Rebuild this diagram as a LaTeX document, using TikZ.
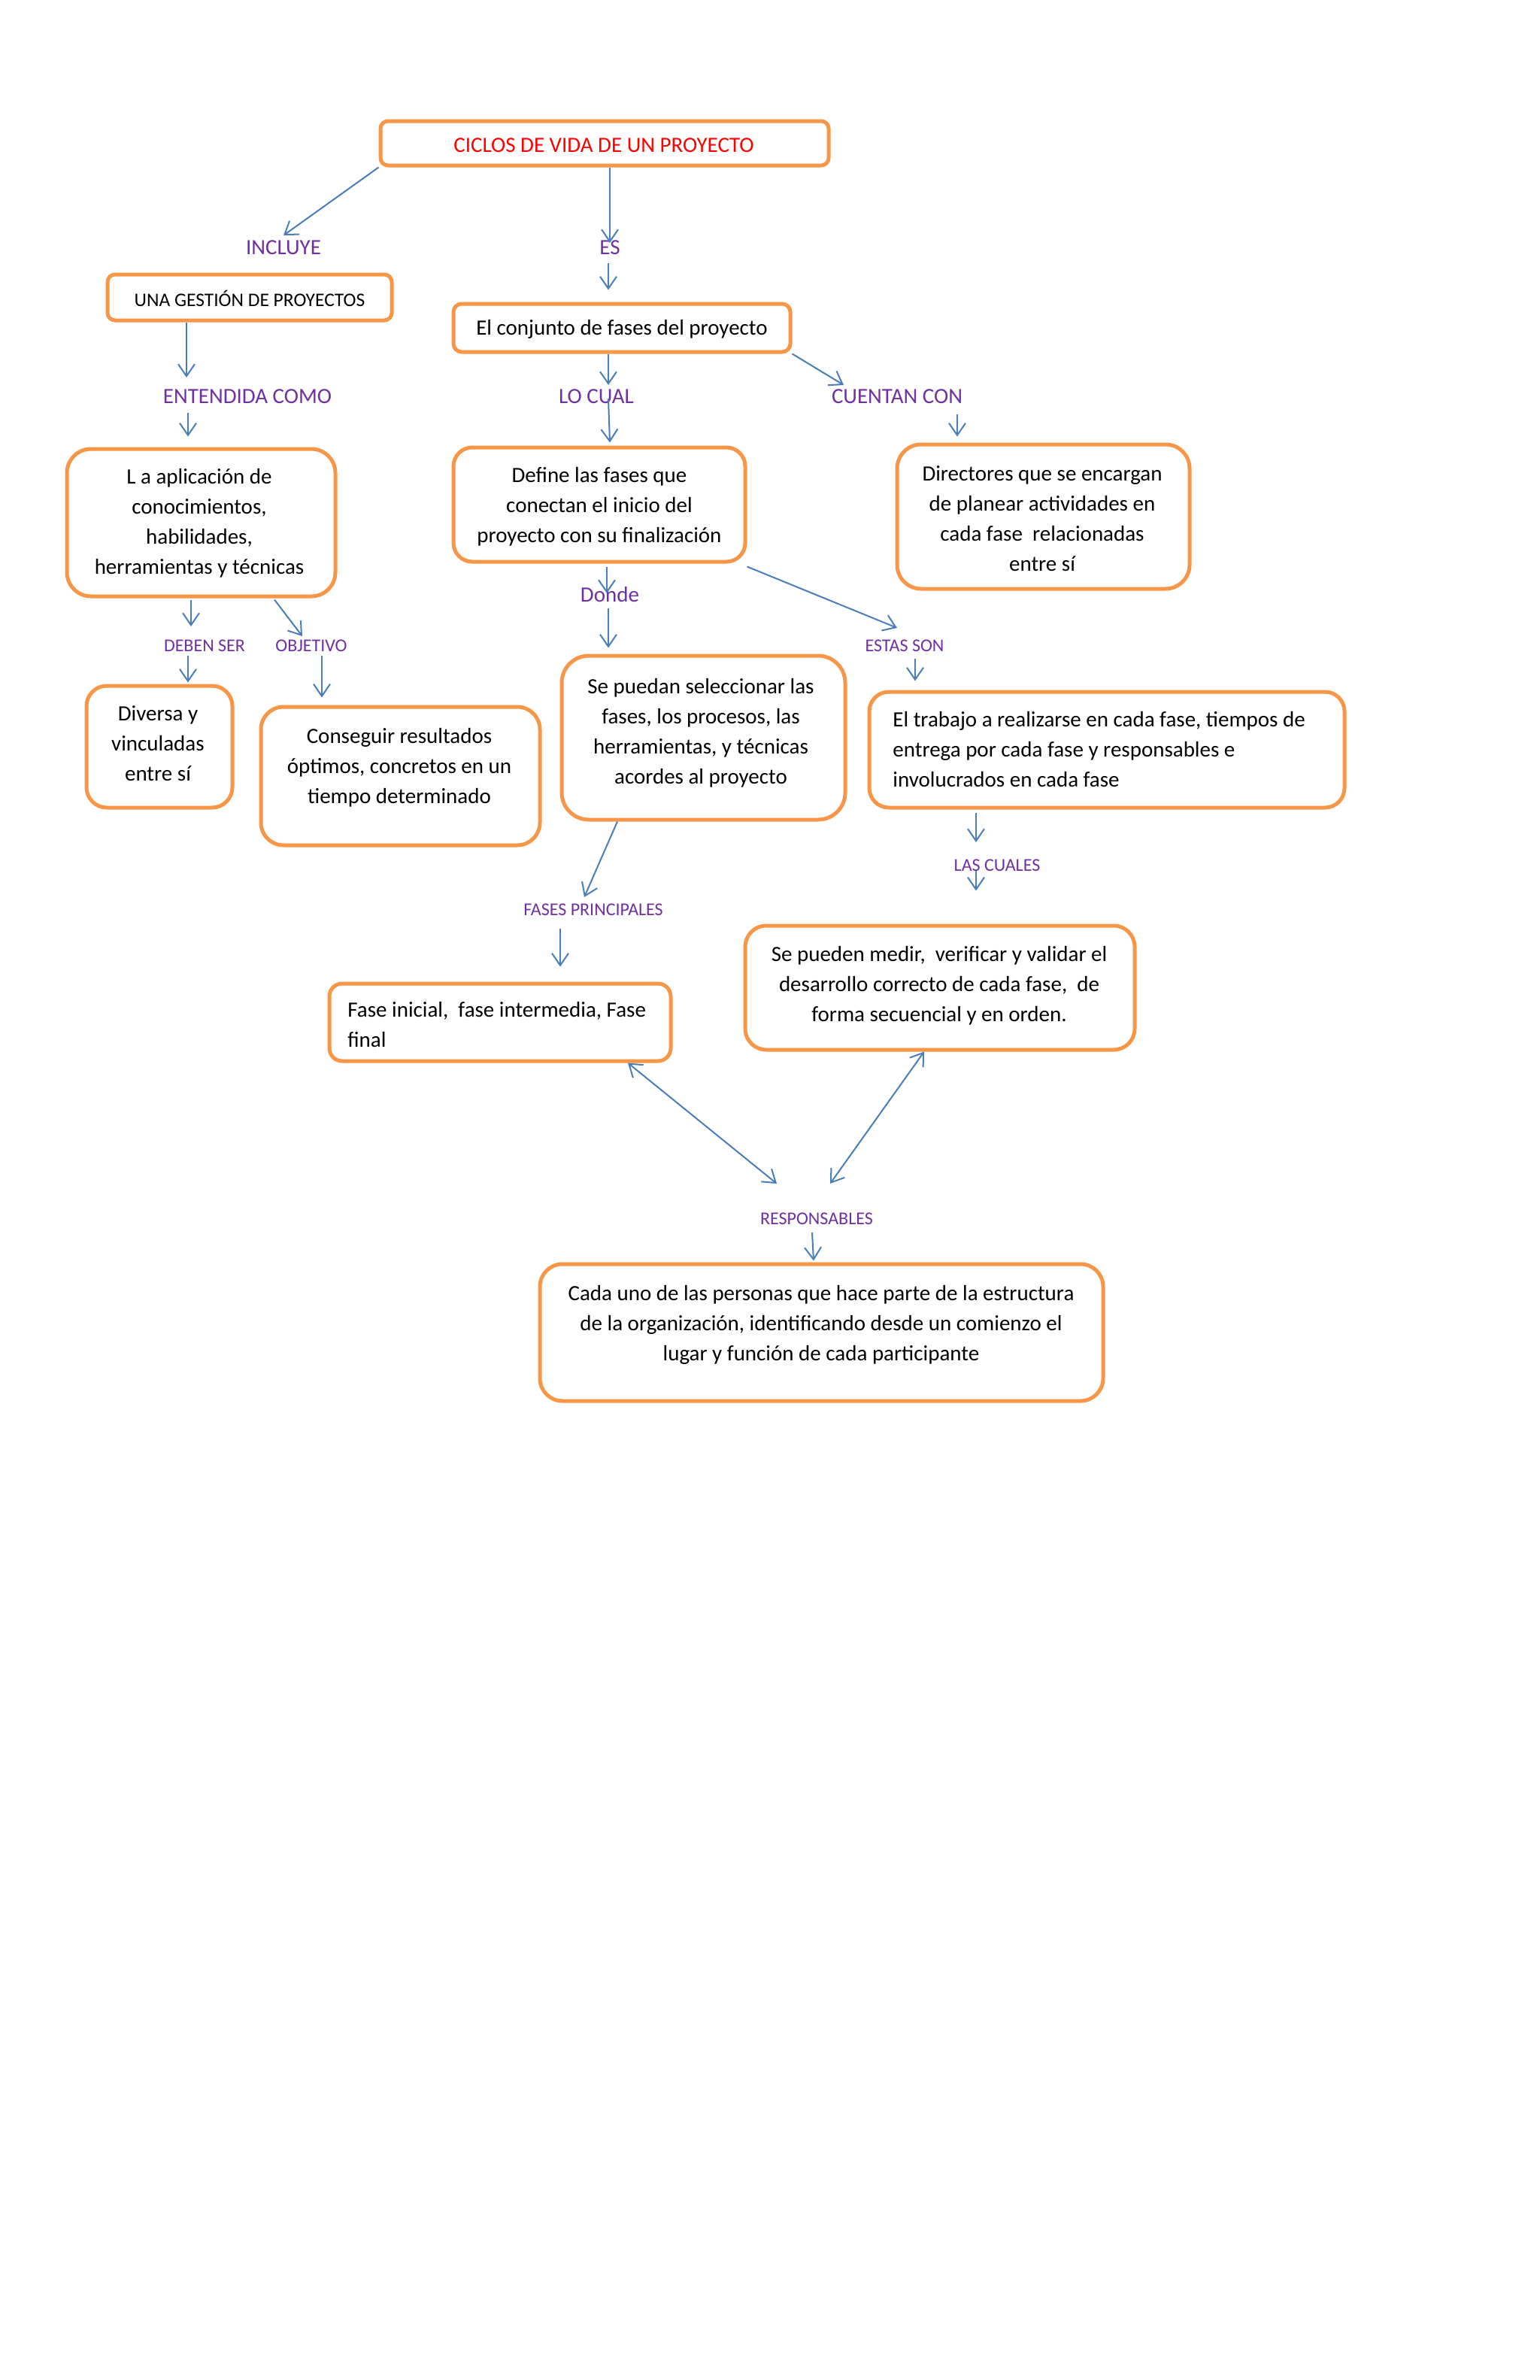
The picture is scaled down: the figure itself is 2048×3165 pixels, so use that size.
\documentclass[tikz,border=0pt]{standalone}
\usepackage{fontspec}
\setmainfont{Carlito}
\usetikzlibrary{arrows.meta,calc}
\definecolor{boxorange}{HTML}{F79646}
\definecolor{linkblue}{HTML}{4A7EBB}
\definecolor{lblpurple}{HTML}{7030A0}
\definecolor{titlered}{HTML}{FF0000}
\begin{document}
\begin{tikzpicture}[x=0.5pt,y=-0.5pt,
  cbox/.style={draw=boxorange, line width=2.5pt, fill=white, inner sep=0pt, rectangle},
  btext/.style={font=\fontsize{14.5}{20}\selectfont, align=center, inner sep=0pt, yshift=-1.8pt},
  ltext/.style={btext, align=left, anchor=west},
  biglbl/.style={text=lblpurple, font=\fontsize{14.5}{17}\selectfont, inner sep=0pt, text height=9.8pt, text depth=0pt},
  smalllbl/.style={text=lblpurple, font=\fontsize{12}{14}\selectfont, inner sep=0pt, text height=8.1pt, text depth=0pt},
  conn/.style={draw=linkblue, line width=1pt, -{Straight Barb[length=8pt,width=11pt,line width=1pt]}},
  dconn/.style={draw=linkblue, line width=1pt, {Straight Barb[length=8pt,width=11pt,line width=1pt]}-{Straight Barb[length=8pt,width=11pt,line width=1pt]}},
]
\path[fill=white] (0,0) rectangle (2048,3165);

% boxes
\node[cbox, minimum width=298pt, minimum height=29.5pt, rounded corners=5pt] (title) at (804,190.5) {};
\node[cbox, minimum width=189pt, minimum height=30.5pt, rounded corners=5pt] (gestion) at (332,395.5) {};
\node[cbox, minimum width=224pt, minimum height=32pt, rounded corners=5.5pt] (conjunto) at (827,436) {};
\node[cbox, minimum width=178.5pt, minimum height=98pt, rounded corners=16pt] (aplicacion) at (267.5,695) {};
\node[cbox, minimum width=194pt, minimum height=76pt, rounded corners=12.5pt] (define) at (797,671) {};
\node[cbox, minimum width=194.5pt, minimum height=96pt, rounded corners=16pt] (directores) at (1387.5,687) {};
\node[cbox, minimum width=97pt, minimum height=81pt, rounded corners=13.5pt] (diversa) at (212,993) {};
\node[cbox, minimum width=185.5pt, minimum height=92pt, rounded corners=15pt] (conseguir) at (532.5,1032) {};
\node[cbox, minimum width=188.5pt, minimum height=109pt, rounded corners=18pt] (seleccionar) at (935.5,981) {};
\node[cbox, minimum width=316pt, minimum height=77pt, rounded corners=13pt] (trabajo) at (1472,997) {};
\node[cbox, minimum width=259pt, minimum height=82.5pt, rounded corners=14pt] (medir) at (1250,1313.5) {};
\node[cbox, minimum width=227pt, minimum height=51.5pt, rounded corners=8.5pt] (fasein) at (665,1359.5) {};
\node[cbox, minimum width=374.5pt, minimum height=91pt, rounded corners=15pt] (cada) at (1092.5,1772) {};

% box texts
\node[btext, text=titlered, yshift=1pt] (ttitle) at (803,192) {CICLOS DE VIDA DE UN PROYECTO};
\node[btext, font=\fontsize{12.75}{16}\selectfont, yshift=1.8pt] (tgestion) at (332,397) {UNA GESTIÓN DE PROYECTOS};
\node[btext] (tconjunto) at (827,434) {El conjunto de fases del proyecto};
\node[btext] (taplicacion) at (265,692) {L a aplicación de\\conocimientos,\\habilidades,\\herramientas y técnicas};
\node[btext] (tdefine) at (797,670) {Define las fases que\\conectan el inicio del\\proyecto con su finalización};
\node[btext] (tdirectores) at (1386,686) {Directores que se encargan\\de planear actividades en\\cada fase\ \ relacionadas\\entre sí};
\node[btext] (tdiversa) at (210,985) {Diversa y\\vinculadas\\entre sí};
\node[btext] (tconseguir) at (531,1017) {Conseguir resultados\\óptimos, concretos en un\\tiempo determinado};
\node[btext] (tseleccionar) at (932,971) {Se puedan seleccionar las\\fases, los procesos, las\\herramientas, y técnicas\\acordes al proyecto};
\node[ltext] (ttrabajo) at (1187,993) {El trabajo a realizarse en cada fase, tiempos de\\entrega por cada fase y responsables e\\involucrados en cada fase};
\node[btext] (tmedir) at (1249,1307) {Se pueden medir,\ \ verificar y validar el\\desarrollo correcto de cada fase,\ \ de\\forma secuencial y en orden.};
\node[ltext] (tfasein) at (462,1359) {Fase inicial,\ \ fase intermedia, Fase\\final};
\node[btext] (tcada) at (1092,1758) {Cada uno de las personas que hace parte de la estructura\\de la organización, identificando desde un comienzo el\\lugar y función de cada participante};

% labels
\node[biglbl] (incluye) at (377,329) {INCLUYE};
\node[biglbl] (es) at (811,329) {ES};
\node[biglbl] (entendida) at (329,527) {ENTENDIDA COMO};
\node[biglbl] (locual) at (793,527) {LO CUAL};
\node[biglbl] (cuentan) at (1193,527) {CUENTAN CON};
\node[biglbl] (donde) at (811,791) {Donde};
\node[smalllbl] (deben) at (272,858) {DEBEN SER};
\node[smalllbl] (objetivo) at (414,858) {OBJETIVO};
\node[smalllbl] (estas) at (1203,858) {ESTAS SON};
\node[smalllbl] (cuales) at (1326,1150) {LAS CUALES};
\node[smalllbl] (fases) at (789,1209) {FASES PRINCIPALES};
\node[smalllbl] (responsables) at (1086,1620) {RESPONSABLES};

% connectors
\draw[conn] (title.south west) -- ($(incluye.center)+(0,-16)$);
\draw[conn] ($(title.south)+(7,0)$) -- ($(es.center)+(0,-6)$);
\draw[conn] ($(es.center)+(-2,21)$) -- ($(conjunto.north)+(-18,-16)$);
\draw[conn] ($(gestion.south)+(-84,0)$) -- ($(entendida.center)+(-81,-25)$);
\draw[conn] ($(entendida.center)+(-79,22)$) -- ($(aplicacion.north)+(-17.5,-14)$);
\draw[conn] ($(conjunto.south)+(-18,0)$) -- ($(locual.center)+(16,-15)$);
\draw[conn] ($(locual.center)+(16,3)$) -- ($(define.north)+(14,-4)$);
\draw[conn] (conjunto.south east) -- ($(cuentan.center)+(-71,-15)$);
\draw[conn] ($(cuentan.center)+(80,24)$) -- ($(directores.north)+(-114.5,-8)$);
\draw[conn] ($(define.south)+(10,4)$) -- ($(donde.center)+(-4,-2)$);
\draw[conn] ($(donde.center)+(-2,18)$) -- ($(seleccionar.north)+(-126.5,-8)$);
\draw[conn] ($(define.south east)+(0,4)$) -- ($(estas.center)+(-10,-23)$);
\draw[conn] ($(estas.center)+(14,18)$) -- ($(trabajo.north)+(-255,-12)$);
\draw[conn] ($(aplicacion.south)+(-13.5,2)$) -- ($(deben.center)+(-18,-25)$);
\draw[conn] ($(deben.center)+(-22,14)$) -- ($(diversa.north)+(38,-2)$);
\draw[conn] ($(aplicacion.south)+(97.5,2)$) -- ($(objetivo.center)+(-12,-12)$);
\draw[conn] ($(objetivo.center)+(14,14)$) -- ($(conseguir.north)+(-104.5,-10)$);
\draw[conn] ($(trabajo.south)+(-174,4)$) -- ($(cuales.center)+(-28,-30)$);
\draw[conn] ($(cuales.center)+(-28,8)$) -- ($(medir.north)+(48,-44)$);
\draw[conn] ($(seleccionar.south)+(-114.5,0)$) -- ($(fases.center)+(-12,-16)$);
\draw[conn] ($(fases.center)+(-44,26)$) -- ($(fasein.north)+(80,-20)$);
\draw[dconn] ($(fasein.south)+(170,0)$) -- ($(responsables.center)+(-53,-46)$);
\draw[dconn] ($(medir.south)+(-21,0)$) -- ($(responsables.center)+(18,-46)$);
\draw[conn] ($(responsables.center)+(-6,19)$) -- ($(cada.north)+(-10.5,-2)$);
\end{tikzpicture}
\end{document}
